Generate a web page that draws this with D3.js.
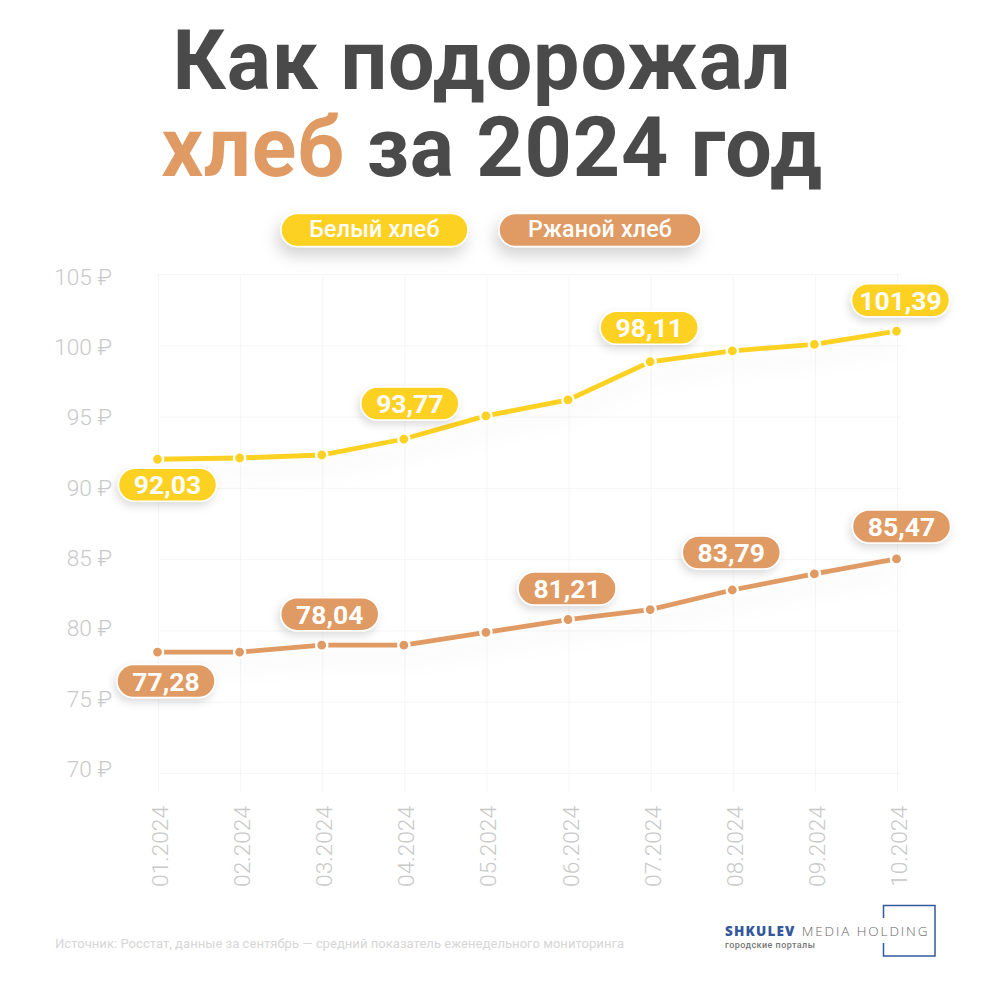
<!DOCTYPE html>
<html lang="ru">
<head>
<meta charset="utf-8">
<script src="https://cdn.jsdelivr.net/npm/d3@7"></script>
<style>
html,body{margin:0;padding:0;background:#fff}
svg{display:block;font-family:Roboto,sans-serif}
.tick-label text{font-family:Roboto,sans-serif}
</style>
</head>
<body>
<svg id="chart" width="984" height="985"></svg>
<script>
const months = ["01.2024","02.2024","03.2024","04.2024","05.2024","06.2024","07.2024","08.2024","09.2024","10.2024"];
const yTicks = [70,75,80,85,90,95,100,105];
const whiteBread = [92.04,92.13,92.34,93.46,95.08,96.2,98.88,99.64,100.1,101.02];
const ryeBread = [78.52,78.52,79.0,79.0,79.9,80.8,81.5,82.87,84.0,85.05];
const whiteLabels = [[0,"92,03"],[3,"93,77"],[6,"98,11"],[9,"101,39"]];
const ryeLabels = [[0,"77,28"],[2,"78,04"],[5,"81,21"],[7,"83,79"],[9,"85,47"]];
const seriesNames = ["Белый хлеб","Ржаной хлеб"];
const titleLines = [[["Как подорожал","ink"]],[["хлеб","rye"],[" за 2024 год","ink"]]];
const sourceText = "Источник: Росстат, данные за сентябрь — средний показатель еженедельного мониторинга";

const colors = {ink:"#4a4a4a", rye:"#e09a63", white:"#fdd122", grid:"#f4f5f6", tick:"#c9c9c9", blue:"#35589a"};
const svg = d3.select("#chart");

const defs = svg.append("defs");
const pillShadow = defs.append("filter").attr("id","pillShadow").attr("x","-30%").attr("y","-50%").attr("width","160%").attr("height","240%");
pillShadow.append("feDropShadow").attr("dx",-2).attr("dy",4).attr("stdDeviation",4).attr("flood-color","#000").attr("flood-opacity",0.14);
const legendShadow = defs.append("filter").attr("id","legendShadow").attr("x","-30%").attr("y","-80%").attr("width","160%").attr("height","320%");
legendShadow.append("feDropShadow").attr("dx",-3).attr("dy",8).attr("stdDeviation",8).attr("flood-color","#000").attr("flood-opacity",0.18);
const lineShadow = defs.append("filter").attr("id","lineShadow").attr("x","-5%").attr("y","-50%").attr("width","110%").attr("height","250%");
lineShadow.append("feDropShadow").attr("dx",0).attr("dy",14).attr("stdDeviation",10).attr("flood-color","#000").attr("flood-opacity",0.06);

const x = d3.scalePoint().domain(months).range([157.5,896.5]);
const y = d3.scaleLinear().domain([70,105]).range([773.5,274.5]);
// the tick labels sit on a slightly tighter ladder than the grid lines in the reference
const yLabelScale = d3.scaleLinear().domain([70,105]).range([768.5,276]);

// grid
const gridG = svg.append("g");
gridG.selectAll("line.h").data(yTicks).join("line").attr("class","h")
  .attr("x1",158.5).attr("x2",901).attr("y1",d=>y(d)).attr("y2",d=>y(d))
  .attr("stroke",colors.grid).attr("stroke-width",1);
gridG.selectAll("line.v").data(months).join("line").attr("class","v")
  .attr("x1",d=>x(d)+1).attr("x2",d=>x(d)+1).attr("y1",y(105)).attr("y2",792)
  .attr("stroke",colors.grid).attr("stroke-width",1);

// axes
const yAxis = svg.append("g").attr("class","tick-label").attr("transform","translate(112,0)")
  .call(d3.axisLeft(yLabelScale).tickValues(yTicks).tickSize(0).tickPadding(0).tickFormat(d=>d+" ₽"));
yAxis.select(".domain").remove();
yAxis.selectAll("text").attr("font-size",22.7).attr("font-weight",300).attr("fill",colors.tick).attr("dy","0.36em");

const xAxis = svg.append("g").attr("class","tick-label").attr("transform","translate(0,806)")
  .call(d3.axisBottom(x).tickSize(0).tickPadding(0));
xAxis.select(".domain").remove();
xAxis.selectAll("text").attr("font-size",22.7).attr("font-weight",300).attr("fill",colors.tick)
  .attr("text-anchor","end").attr("transform","rotate(-90)").attr("x",0).attr("y",2).attr("dy","0.35em");

// series
const line = d3.line().x((d,i)=>x(months[i])).y(d=>y(d));
function drawSeries(values, color, labels, offsets){
  const g = svg.append("g");
  g.append("path").datum(values).attr("d",line).attr("fill","none").attr("stroke",color)
    .attr("stroke-width",4.8).attr("filter","url(#lineShadow)");
  g.selectAll("circle").data(values).join("circle")
    .attr("cx",(d,i)=>x(months[i])).attr("cy",d=>y(d)).attr("r",5.6)
    .attr("fill",color).attr("stroke","#fff").attr("stroke-width",2.4);
  const lab = g.selectAll("g.lab").data(labels).join("g").attr("class","lab")
    .attr("transform",(d,k)=>`translate(${x(months[d[0]])+offsets[k][0]},${y(values[d[0]])+offsets[k][1]})`);
  lab.append("rect").attr("x",-49).attr("y",-16.5).attr("width",98).attr("height",33).attr("rx",16.5)
    .attr("fill",color).attr("stroke","#fff").attr("stroke-width",1.5).attr("filter","url(#pillShadow)");
  lab.append("text").attr("text-anchor","middle").attr("dy","0.36em").attr("font-size",26.5).attr("font-weight",700)
    .attr("fill","#fff").text(d=>d[1]);
}
drawSeries(whiteBread,colors.white,whiteLabels,[[10,25.6],[6,-35.5],[-1,-34],[4,-31]]);
drawSeries(ryeBread,colors.rye,ryeLabels,[[8.5,29],[8,-31],[-1,-31],[-1,-37.5],[5,-32.5]]);

// title
titleLines.forEach((ln,i)=>{
  const t = svg.append("text").attr("x",i?492:482).attr("y",i?176:88.5).attr("text-anchor","middle")
    .attr("font-weight",700).attr("font-size",82.5).attr("letter-spacing",0.9);
  ln.forEach(s=>t.append("tspan").attr("fill",colors[s[1]]).attr("xml:space","preserve").text(s[0]));
});

// legend
const legend = svg.append("g");
const legendBoxes = [{c:colors.white,l:281,w:187},{c:colors.rye,l:499,w:202}];
seriesNames.forEach((n,i)=>{
  const b = legendBoxes[i];
  legend.append("rect").attr("x",b.l).attr("y",213.5).attr("width",b.w).attr("height",33).attr("rx",16.5)
    .attr("fill",b.c).attr("stroke","#fff").attr("stroke-width",1.5).attr("filter","url(#legendShadow)");
  legend.append("text").attr("x",b.l+b.w/2).attr("y",228.5).attr("dy","0.36em").attr("text-anchor","middle")
    .attr("font-size",23.2).attr("font-weight",500).attr("letter-spacing",0.2).attr("fill","#fff").text(n);
});

// source
svg.append("text").attr("x",55).attr("y",948).attr("font-size",13.1).attr("fill","#d6d6d6").text(sourceText);

// logo
const logo = svg.append("g");
const brand = logo.append("text").attr("x",725).attr("y",936).attr("font-family","'Open Sans',sans-serif").attr("font-size",13.5);
brand.append("tspan").attr("font-weight",800).attr("fill",colors.blue).attr("letter-spacing",1.2).text("SHKULEV");
brand.append("tspan").attr("font-weight",300).attr("fill","#666").attr("letter-spacing",1.9).attr("dx",6).text("MEDIA HOLDING");
logo.append("text").attr("x",725).attr("y",948).attr("font-size",9).attr("font-weight",500).attr("fill","#777").attr("letter-spacing",0.45).text("городские порталы");
logo.append("path").attr("d",d3.line()([[883.5,918],[883.5,905.5],[935,905.5],[935,956],[883.5,956],[883.5,943]]))
  .attr("fill","none").attr("stroke",colors.blue).attr("stroke-width",1.5);
</script>
</body>
</html>
